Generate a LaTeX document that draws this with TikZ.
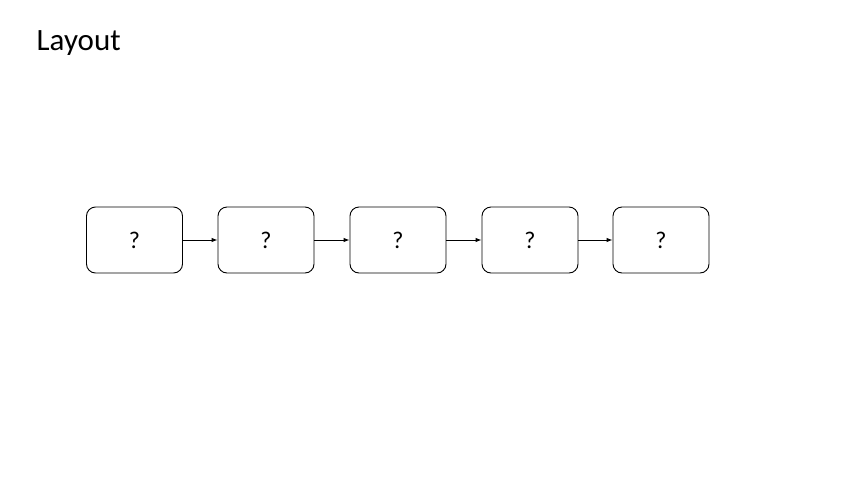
\documentclass[tikz,border=0pt]{standalone}
\usepackage{fontspec}
\setmainfont{Carlito}
\usetikzlibrary{arrows.meta}
\begin{document}
\begin{tikzpicture}[x=1pt,y=-1pt,
  stage/.style={draw=black,line width=0.9pt,rounded corners=9pt,minimum width=96pt,minimum height=66pt,inner sep=0pt,font=\fontsize{24}{28}\selectfont},
  link/.style={draw=black,line width=0.9pt,-{Latex[length=6pt,width=4.5pt]}}]
\useasboundingbox (0,0) rectangle (863,488);
\node[anchor=base west,inner sep=0pt,font=\fontsize{31}{35}\selectfont] (title) at (36.5,50) {Layout};
\node[stage] (s1) at (134.5,240) {?};
\node[stage] (s2) at (266,240) {?};
\node[stage] (s3) at (398,240) {?};
\node[stage] (s4) at (530,240) {?};
\node[stage] (s5) at (661,240) {?};
\draw[link] (s1) -- (s2);
\draw[link] (s2) -- (s3);
\draw[link] (s3) -- (s4);
\draw[link] (s4) -- (s5);
\end{tikzpicture}
\end{document}
